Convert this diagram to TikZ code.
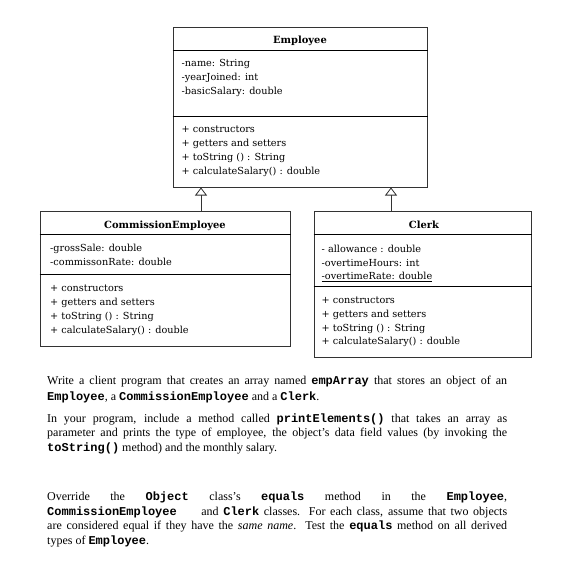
\documentclass[tikz,border=0pt]{standalone}
\usepackage{fontspec}
\setmainfont{Liberation Serif}
\setmonofont{Liberation Mono}
\newfontfamily\umlfont{DejaVu Serif}
\usetikzlibrary{arrows.meta}
\newcommand{\cd}[1]{\textbf{\texttt{#1}}}
\begin{document}
\begin{tikzpicture}[x=1pt,y=-1pt,
  classbox/.style={draw=black!80, line width=1pt, inner sep=0pt, fill=white},
  sepline/.style={draw=black, line width=0.8pt},
  umltitle/.style={anchor=base, inner sep=0pt, font=\umlfont\bfseries\fontsize{9.9}{12}\selectfont},
  uml/.style={anchor=base west, inner sep=0pt, font=\umlfont\fontsize{9.7}{12}\selectfont},
  inh/.style={draw=black!80, line width=0.8pt, -{Triangle[open, width=12pt, length=8pt]}},
  para/.style={anchor=base west, inner sep=0pt, font=\fontsize{12}{14}\selectfont}]
\useasboundingbox (0,0) rectangle (564,568);
\fill[white] (0,0) rectangle (564,568);

% class boxes
\node[classbox, minimum width=254pt, minimum height=160pt] (emp) at (300,107) {};
\node[classbox, minimum width=250pt, minimum height=135pt] (ce) at (165,278.5) {};
\node[classbox, minimum width=217pt, minimum height=146pt] (clerk) at (422.5,284) {};

% separators
\draw[sepline] (emp.west |- 0,50.5) -- (emp.east |- 0,50.5);
\draw[sepline] (emp.west |- 0,116) -- (emp.east |- 0,116);
\draw[sepline] (ce.west |- 0,234) -- (ce.east |- 0,234);
\draw[sepline] (ce.west |- 0,274) -- (ce.east |- 0,274);
\draw[sepline] (clerk.west |- 0,234) -- (clerk.east |- 0,234);
\draw[sepline] (clerk.west |- 0,286) -- (clerk.east |- 0,286);

% titles
\node[umltitle] (empT) at (300,43.5) {Employee};
\node[umltitle] (ceT) at (165,228) {CommissionEmployee};
\node[umltitle] (clerkT) at (424,228.5) {Clerk};

% Employee
\foreach \t [count=\i from 0] in {{-name: String},{-yearJoined: int},{-basicSalary: double}}
  \node[uml] (empA\i) at (181.5,66+14*\i) {\t};
\foreach \t [count=\i from 0] in {{+ constructors},{+ getters and setters},{+ toString () : String},{+ calculateSalary() : double}}
  \node[uml] (empM\i) at (181.5,132+14*\i) {\t};

% CommissionEmployee
\foreach \t [count=\i from 0] in {{-grossSale: double},{-commissonRate: double}}
  \node[uml] (ceA\i) at (50,251+14.5*\i) {\t};
\foreach \t [count=\i from 0] in {{+ constructors},{+ getters and setters},{+ toString () : String},{+ calculateSalary() : double}}
  \node[uml] (ceM\i) at (50,291+14*\i) {\t};

% Clerk
\node[uml] (clA0) at (321.5,252) {- allowance : double};
\node[uml] (clA1) at (321.5,266) {-overtimeHours: int};
\node[uml] (clA2) at (321.5,279.5) {\underline{-overtimeRate: double}};
\foreach \t [count=\i from 0] in {{+ constructors},{+ getters and setters},{+ toString () : String},{+ calculateSalary() : double}}
  \node[uml] (clM\i) at (321.5,303.5+13.8*\i) {\t};

% inheritance
\draw[inh] (201,0 |- ce.north) -- (201,0 |- emp.south);
\draw[inh] (391,0 |- clerk.north) -- (391,0 |- emp.south);

% text
\node[para] (p1a) at (47,384) {\makebox[460pt][s]{Write a client program that creates an array named \cd{empArray} that stores an object of an}};
\node[para] (p1b) at (47,400) {\cd{Employee}, a \cd{CommissionEmployee} and a \cd{Clerk}.};
\node[para] (p2a) at (47,422) {\makebox[460pt][s]{In your program, include a method called \cd{printElements()} that takes an array as}};
\node[para] (p2b) at (47,436.5) {\makebox[460pt][s]{parameter and prints the type of employee, the object’s data field values (by invoking the}};
\node[para] (p2c) at (47,451) {\cd{toString()} method) and the monthly salary.};
\node[para] (p3a) at (47,500) {\makebox[460pt][s]{Override the \cd{Object} class’s \cd{equals} method in the \cd{Employee},}};
\node[para] (p3b) at (47,515) {\makebox[460pt][s]{\cd{CommissionEmployee}\hspace{20pt} and \cd{Clerk} classes. For each class, assume that two objects}};
\node[para] (p3c) at (47,529) {\makebox[460pt][s]{are considered equal if they have the \textit{same name}. Test the \cd{equals} method on all derived}};
\node[para] (p3d) at (47,544) {types of \cd{Employee}.};
\end{tikzpicture}
\end{document}
